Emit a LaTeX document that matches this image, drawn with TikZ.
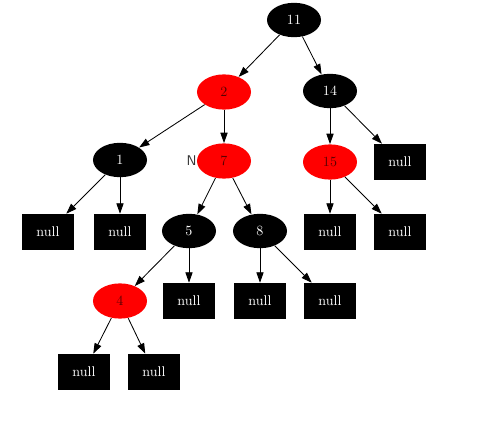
\documentclass[tikz,border=0pt]{standalone}
\usepackage{xcolor}
\usepackage{tikz}
\usetikzlibrary{shapes.geometric, positioning, arrows.meta}

\definecolor{rbred}{HTML}{FF0000}
\definecolor{rbtext}{HTML}{5A0000}
\definecolor{labelgray}{HTML}{333333}

\begin{document}
\begin{tikzpicture}[
				x=0.025cm, y=-0.025cm,
				blacknode/.style={ellipse, fill=black, text=white, minimum width=1.35cm, minimum height=0.86cm, inner sep=0pt},
				rednode/.style={ellipse, fill=rbred, text=rbtext, minimum width=1.35cm, minimum height=0.88cm, inner sep=0pt},
				leaf/.style={rectangle, fill=black, text=white, minimum width=1.3cm, minimum height=0.9cm, inner sep=0pt},
				arrow/.style={-{Triangle[length=0.26cm, width=0.18cm]}, line width=0.6pt}
				]
				\useasboundingbox (0,0) rectangle (490,426);
				% Nodes
				\node (n11) [blacknode] at (294,20) {11};
				\node (n2) [rednode] at (224,92) {2};
				\node (n14) [blacknode] at (330,91) {14};
				\node (n1) [blacknode] at (120,160) {1};
				\node (n7) [rednode] at (224,161) {7};
				\node (n15) [rednode] at (330,162) {15};
				\node (null14) [leaf] at (400,162) {null};
				\node (null1a) [leaf] at (48,232) {null};
				\node (null1b) [leaf] at (120,232) {null};
				\node (n5) [blacknode] at (189,231) {5};
				\node (n8) [blacknode] at (260,231) {8};
				\node (null15a) [leaf] at (330,232) {null};
				\node (null15b) [leaf] at (400,232) {null};
				\node (n4) [rednode] at (120,301) {4};
				\node (null5) [leaf] at (189,301) {null};
				\node (null8a) [leaf] at (260,301) {null};
				\node (null8b) [leaf] at (330,301) {null};
				\node (null4a) [leaf] at (84,372) {null};
				\node (null4b) [leaf] at (154,372) {null};
				\node (mark) [left=0pt of n7, xshift=0.12cm, text=labelgray, font=\sffamily] {N};
				
				% Arrows
				\draw [arrow] (n11) -- (n2);
				\draw [arrow] (n11) -- (n14);
				\draw [arrow] (n2) -- (n1);
				\draw [arrow] (n2) -- (n7);
				\draw [arrow] (n14) -- (n15);
				\draw [arrow] (n14) -- (null14);
				\draw [arrow] (n1) -- (null1a);
				\draw [arrow] (n1) -- (null1b);
				\draw [arrow] (n7) -- (n5);
				\draw [arrow] (n7) -- (n8);
				\draw [arrow] (n15) -- (null15a);
				\draw [arrow] (n15) -- (null15b);
				\draw [arrow] (n5) -- (n4);
				\draw [arrow] (n5) -- (null5);
				\draw [arrow] (n8) -- (null8a);
				\draw [arrow] (n8) -- (null8b);
				\draw [arrow] (n4) -- (null4a);
				\draw [arrow] (n4) -- (null4b);
			\end{tikzpicture}
\end{document}
